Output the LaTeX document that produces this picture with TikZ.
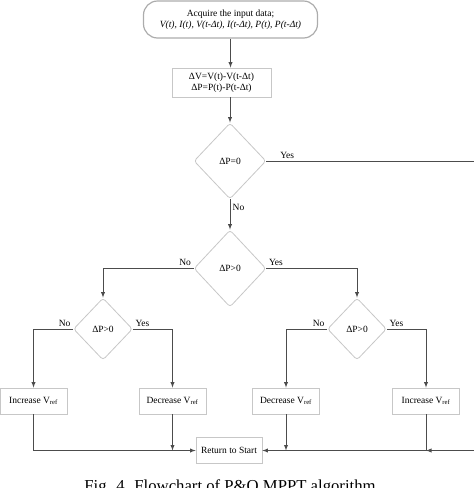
\documentclass[tikz,border=0pt]{standalone}
\usepackage{fontspec}
\setmainfont{Liberation Serif}
\usetikzlibrary{shapes.geometric}
\usetikzlibrary{positioning}
\definecolor{Linie}{gray}{0.30}
\definecolor{Rahmen}{gray}{0.78}
\tikzset{
  Kasten/.style={draw=Rahmen, line width=0.8pt, minimum width=#1, minimum height=26pt, inner sep=1pt, align=center}, % Rechteck
  Start/.style={draw=gray!65, line width=1.2pt, rounded corners=14pt, minimum width=174pt, minimum height=37pt, inner sep=1pt, align=center}, % Anfang
  Raute/.style={diamond, draw=Rahmen, line width=0.8pt, rounded corners=3pt, inner sep=0pt, minimum width=#1}, % Entscheidung
  Pfeil/.style={draw=Linie, line width=0.9pt, ->}, % Verbindung
  Marke/.style={inner sep=2.2pt} % Ja / Nein
}

\begin{document}
\begin{tikzpicture}[x=1pt, y=-1pt,
font=\fontsize{9.5}{11}\selectfont,
>=latex % Pfeilspitzen
]
\useasboundingbox (0,0) rectangle (474,488);

%Knoten
\node[Start] (Start) at (230.5,19.5) {Acquire the input data;\\ \textit{V(t), I(t), V(t-Δt), I(t-Δt), P(t), P(t-Δt)}};
\node[Kasten=99pt, minimum height=29pt] (Delta) at (221.5,82.5) {ΔV=V(t)-V(t-Δt)\\ ΔP=P(t)-P(t-Δt)};

\node[Raute=72pt, minimum height=76pt] (D0) at (230,161) {ΔP=0};
\node[Raute=72pt, minimum height=77pt] (D1) at (230,268.5) {ΔP>0};
\node[Raute=59pt, minimum height=62pt] (D2) at (103,329) {ΔP>0};
\node[Raute=59pt, minimum height=62pt] (D3) at (357,329) {ΔP>0};

\node[Kasten=67pt] (IncL) at (33.5,401) {Increase V\textsubscript{ref}};
\node[Kasten=67pt] (DecL) at (172.5,401) {Decrease V\textsubscript{ref}};
\node[Kasten=67pt] (DecR) at (286,401) {Decrease V\textsubscript{ref}};
\node[Kasten=67pt] (IncR) at (426,401) {Increase V\textsubscript{ref}};

\node[Kasten=66pt] (Ret) at (229,450.5) {Return to Start};

\node[anchor=base, font=\fontsize{16.7}{18}\selectfont] (Titel) at (230,491) {Fig. 4. Flowchart of P\&O MPPT algorithm};

\coordinate (Rechts) at (474,161);

%Verbindungen
\draw[Pfeil] (Start.south) -- (Start.south |- Delta.north);
\draw[Pfeil] (D0.north |- Delta.south) -- (D0.north);
\draw[Pfeil] (D0.south) -- node[Marke, right, pos=0.25]{No} (D1.north);
\draw[Pfeil] (D0.east) -- node[Marke, above, pos=0.1]{Yes} (Rechts) -- (Rechts |- Ret) -- (IncR |- Ret);

\draw[Pfeil] (D1.west) node[Marke, above left]{No} -| (D2.north);
\draw[Pfeil] (D1.east) node[Marke, above right]{Yes} -| (D3.north);

\draw[Pfeil] (D2.west) node[Marke, above left]{No} -| (IncL.north);
\draw[Pfeil] (D2.east) node[Marke, above right]{Yes} -| (DecL.north);
\draw[Pfeil] (D3.west) node[Marke, above left]{No} -| (DecR.north);
\draw[Pfeil] (D3.east) node[Marke, above right]{Yes} -| (IncR.north);

%Rueckfuehrung
\draw[Pfeil] (IncL.south) |- (Ret.west);
\draw[Pfeil] (DecL.south) -- (DecL.south |- Ret);
\draw[Pfeil] (DecR.south) -- (DecR.south |- Ret);
\draw[Pfeil] (IncR.south) |- (Ret.east);

\end{tikzpicture}
\end{document}
